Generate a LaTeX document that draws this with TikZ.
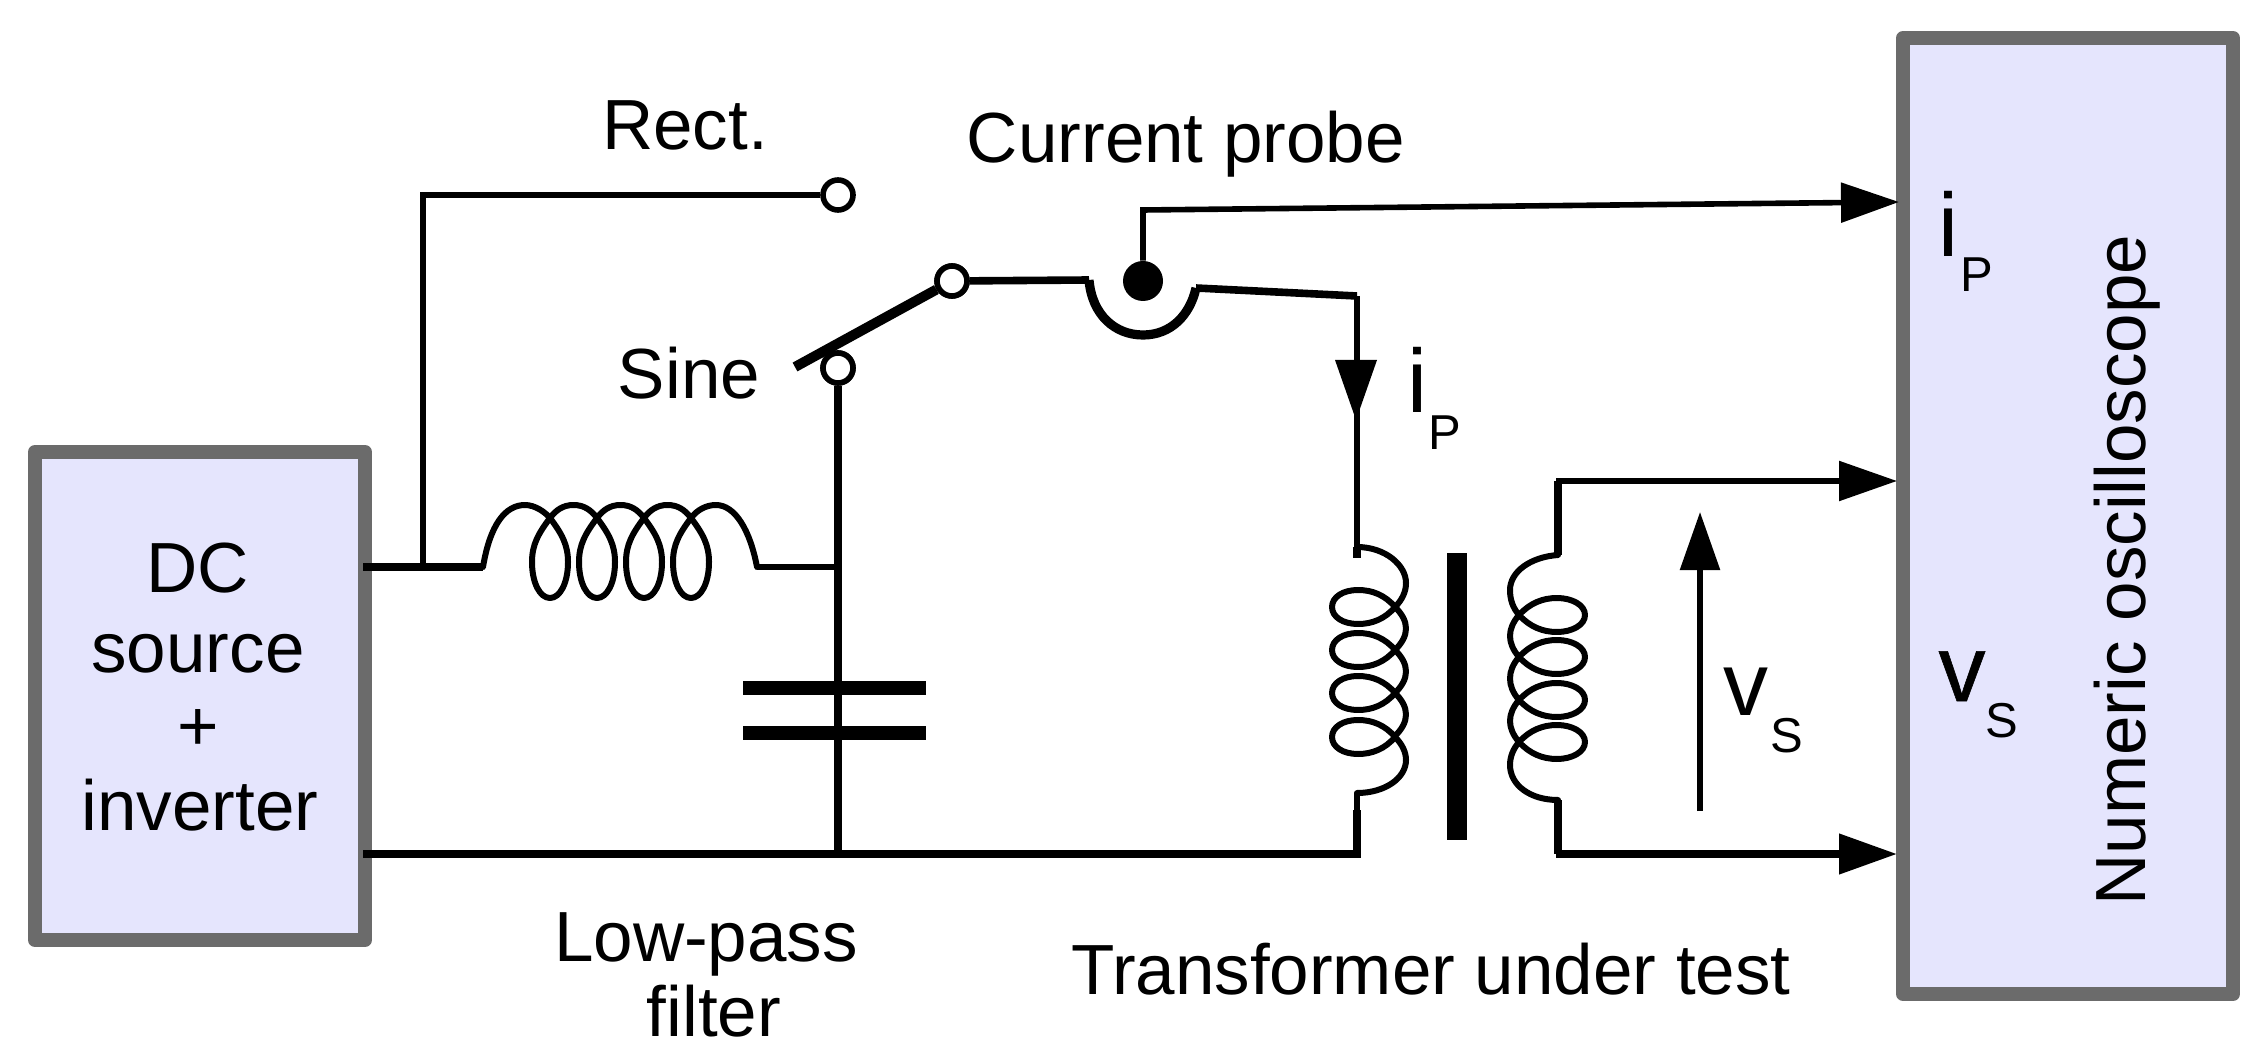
\documentclass[tikz,border=0pt]{standalone}
\usepackage{fontspec}
\setmainfont{Liberation Sans}
\usetikzlibrary{arrows.meta}
\definecolor{boxfill}{HTML}{E5E5FD}
\definecolor{boxline}{HTML}{6B6B6B}
\newcommand{\hl}{\fontsize{35.5}{35.5}\selectfont}
\newcommand{\sbl}{\fontsize{24.5}{24.5}\selectfont}
\newcommand{\bg}{\fontsize{45}{45}\selectfont}
\tikzset{
  x=0.5pt,y=-0.5pt,
  box/.style={draw=boxline,fill=boxfill,line width=7pt,inner sep=0pt,rectangle,line join=round},
  wire/.style={line width=3.8pt,line join=miter},
  thinw/.style={line width=2.8pt},
  coil/.style={line width=3pt,line cap=round,line join=round},
  term/.style={circle,draw,fill=white,line width=2.8pt,minimum size=15pt,inner sep=0pt},
  dot/.style={circle,fill=black,minimum size=20pt,inner sep=0pt},
  lab/.style={anchor=base,font=\hl,inner sep=0pt},
  big/.style={anchor=base,font=\bg,inner sep=0pt},
  sub/.style={anchor=base,font=\sbl,inner sep=0pt},
  arr/.style={-{Triangle[length=29pt,width=19.5pt]},shorten >=0pt},
}
\begin{document}
\begin{tikzpicture}
\useasboundingbox (0,0) rectangle (2263,1063);
% boxes
\node[box,minimum width=165pt,minimum height=244pt] (src) at (200,696) {};
\node[box,minimum width=165pt,minimum height=478pt] (osc) at (2068,516) {};
% junction coordinates
\coordinate (j1) at (423,567);
\coordinate (la) at (483,567);
\coordinate (lb) at (757,567);
\coordinate (j2) at (838,567);
\coordinate (j3) at (838,854);
\coordinate (ps) at (363,567);
\coordinate (pb) at (363,854);
\coordinate (trb) at (1357,854);
\coordinate (t1a) at (1357,547);
\coordinate (t1b) at (1357,793);
\coordinate (t2a) at (1558,555);
\coordinate (t2b) at (1558,800);
\coordinate (o1) at (1899,202);
\coordinate (o2) at (1897,481);
\coordinate (o3) at (1897,854);
\coordinate (va) at (1700,811);
\coordinate (vb) at (1700,512);
% switch terminals
\node[term] (rect) at (838,195) {};
\node[term] (sine) at (838,368) {};
\node[term] (sw) at (952,281) {};
\node[dot] (probe) at (1143,281) {};
\coordinate (pa) at (1089,280);
\coordinate (pz) at (1196,288);
\coordinate (pk) at (1357,296);
\coordinate (pt) at (1143,210);
% wires
\draw[wire] (ps) -- (la);
\draw[thinw] (lb) -- (j2);
\draw[thinw] (j1) -- (423,195) -- (rect);
\draw[wire] (j2) -- (j3);
\draw[wire] (j2) -- (sine);
\draw[wire] (pb) -- (trb) -- (1357,810);
\draw[thinw] (t1b) -- (1357,812);
\draw[wire] (t1a) -- (1357,558);
\draw[thinw] (pk) -- (t1a);
\draw[wire] (sw) -- (pa);
\draw[wire] (pz) -- (pk);
\draw[thinw,line join=miter] (probe) -- (pt) -- (o1) [arr];
\draw[line width=5pt] (795,367) -- (sw);
\node[term] at (sine) {};
\node[term] at (sw) {};
\draw[line width=4.6pt] (pa) .. controls (1092,315) and (1115,335) .. (1143,335) .. controls (1171,335) and (1190,315) .. (pz);
% arrows on wires
\fill (1335,360) -- (1377,360) -- (1356,420) -- cycle;
\draw[wire] (t2a) -- (1558,481);
\draw[thinw,arr] (1556,481) -- (o2);
\draw[wire] (t2b) -- (1558,854);
\draw[wire,arr] (1556,854) -- (o3);
\draw[thinw,arr] (va) -- (vb);
% capacitor
\fill (743,681) rectangle (926,695);
\fill (743,726) rectangle (926,740);
% filter inductor
\draw[coil] (la) .. controls (490,525) and (505,505) .. (525,505) .. controls (535,505) and (545,512) .. (550,518);
\foreach \c in {550,597,644,691}{
  \draw[coil] (\c,518) .. controls ({\c+12},534) and ({\c+18},545) .. ({\c+18},562)
   .. controls ({\c+18},583) and ({\c+10},598) .. (\c,598)
   .. controls ({\c-10},598) and ({\c-18},583) .. ({\c-18},562)
   .. controls ({\c-18},545) and ({\c-12},534) .. (\c,518);
}
\foreach \c in {550,597,644}{
  \draw[coil] (\c,518) .. controls ({\c+6},510) and ({\c+13},505) .. ({\c+23.5},505) .. controls ({\c+34},505) and ({\c+41},510) .. ({\c+47},518);
}
\draw[coil] (691,518) .. controls (697,510) and (706,505) .. (716,505) .. controls (735,505) and (750,530) .. (lb);
% primary
\draw[coil] (t1a) .. controls (1385,547) and (1406,565) .. (1406,583) .. controls (1406,592) and (1402,600) .. (1395,607);
\foreach \c in {607,650,693,737}{
  \draw[coil] (1395,\c) .. controls (1385,{\c-12}) and (1372,{\c-17}) .. (1358,{\c-17})
   .. controls (1343,{\c-17}) and (1332,{\c-10}) .. (1332,\c)
   .. controls (1332,{\c+10}) and (1343,{\c+17}) .. (1358,{\c+17})
   .. controls (1372,{\c+17}) and (1385,{\c+12}) .. (1395,\c);
}
\foreach \c in {607,650,693}{
  \draw[coil] (1395,\c) .. controls (1402,{\c+7}) and (1406,{\c+14}) .. (1406,{\c+21.5}) .. controls (1406,{\c+29}) and (1402,{\c+36}) .. (1395,{\c+43});
}
\draw[coil] (1395,737) .. controls (1402,744) and (1406,752) .. (1406,760) .. controls (1406,778) and (1385,793) .. (t1b);
% secondary
\draw[coil] (t2a) .. controls (1530,557) and (1510,572) .. (1510,590) .. controls (1510,600) and (1513,608) .. (1519,615);
\foreach \c in {615,657,700,742}{
  \draw[coil] (1519,\c) .. controls (1530,{\c-12}) and (1543,{\c-17}) .. (1557,{\c-17})
   .. controls (1572,{\c-17}) and (1585,{\c-10}) .. (1585,\c)
   .. controls (1585,{\c+10}) and (1572,{\c+17}) .. (1557,{\c+17})
   .. controls (1543,{\c+17}) and (1530,{\c+12}) .. (1519,\c);
}
\foreach \c/\n in {615/657,657/700,700/742}{
  \draw[coil] (1519,\c) .. controls (1513,{\c+7}) and (1510,{\c+14}) .. (1510,{(\c+\n)/2}) .. controls (1510,{\n-14}) and (1513,{\n-7}) .. (1519,\n);
}
\draw[coil] (1519,742) .. controls (1513,749) and (1510,757) .. (1510,765) .. controls (1510,785) and (1530,800) .. (t2b);
% core
\fill (1447,553) rectangle (1467,840);
% labels
\node[lab] (t1) at (685,150) {Rect.};
\node[lab] (t2) at (1186,163) {Current probe};
\node[lab] (t3) at (689,399) {Sine};
\node[lab] (t4) at (198,592) {DC};
\node[lab] (t5) at (198,672) {source};
\node[lab] (t6) at (198,750) {+};
\node[lab] (t7) at (200,830) {inverter};
\node[lab] (t8) at (706,961) {Low-pass};
\node[lab] (t9) at (714,1036) {filter};
\node[lab] (t10) at (1431,994) {Transformer under test};
\node[big] (i1) at (1417,413) {i};
\node[sub] (i1s) at (1445,450) {P};
\node[big] (v1) at (1746,715) {v};
\node[sub] (v1s) at (1787,752) {S};
\node[big] (i2) at (1948,257) {i};
\node[sub] (i2s) at (1977,292) {P};
\node[big,font=\fontsize{47}{47}\selectfont\addfontfeature{FakeBold=0.6}] (v2) at (1962,701) {v};
\node[sub] (v2s) at (2002,737) {S};
\node[lab,rotate=90] (t11) at (2145,570) {Numeric oscilloscope};
\end{tikzpicture}
\end{document}
